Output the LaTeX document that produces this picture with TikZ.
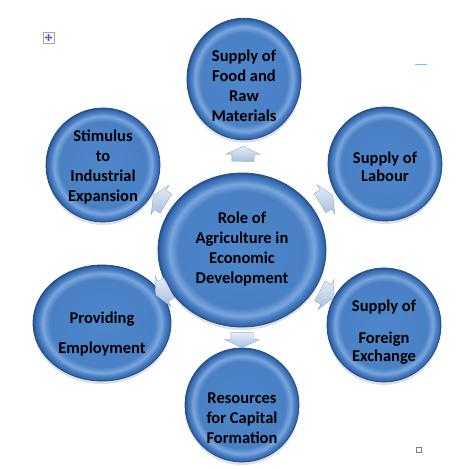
\documentclass[tikz,border=0pt]{standalone}
\usepackage{fontspec}
\setmainfont{Carlito}
\usepackage{tikz}
\usetikzlibrary{arrows,shapes.geometric,shapes.arrows,shadows}

\definecolor{ballcore}{HTML}{4F87CC}
\definecolor{ballmid}{HTML}{4A80C4}
\definecolor{ballrim}{HTML}{7BA6DE}
\definecolor{balldeep}{HTML}{3567AA}
\definecolor{balledge}{HTML}{23508E}
\definecolor{flowtop}{HTML}{E6EDF8}
\definecolor{flowbottom}{HTML}{A9BEDD}
\definecolor{flowedge}{HTML}{94ABCD}
\pgfdeclareradialshading{bevel}{\pgfpointorigin}{color(0bp)=(ballcore); color(19bp)=(ballmid); color(21.5bp)=(ballrim); color(23bp)=(ballmid); color(24.4bp)=(balldeep); color(25bp)=(balledge); color(50bp)=(balledge)}

\begin{document}
\begin{tikzpicture}[x=1pt,y=1pt,
  bubble/.style={ellipse,draw=balledge,line width=0.8pt,shade,shading=bevel,text=black,minimum width=114pt,minimum height=114pt,inner sep=0pt,text depth=0pt,align=center,font=\fontsize{16.5}{20}\selectfont\bfseries,drop shadow={shadow xshift=0pt,shadow yshift=-3pt,opacity=.25}},
  flow/.style={single arrow,draw=flowedge,top color=flowtop,bottom color=flowbottom,minimum height=15pt,inner xsep=0pt,inner ysep=11pt,single arrow head extend=6pt,single arrow tip angle=130,allow upside down}]
\useasboundingbox (0,0) rectangle (475,469);

\node [bubble,minimum width=168pt,minimum height=154pt,text height=68pt] (hub) at (242,219) {Role of\\Agriculture in\\Economic\\Development};

\node [bubble,text height=86pt] (food) at (244,390) {Supply of\\Food and\\Raw\\Materials};
\node [bubble,text height=36pt] (labour) at (385,305) {Supply of\\[-2pt]Labour};
\node [bubble,text height=74pt] (forex) at (384,144) {Supply of\\[12pt]Foreign\\[-2pt]Exchange};
\node [bubble,text height=78pt] (capital) at (242,64) {Resources\\for Capital\\Formation};
\node [bubble,minimum width=138pt,minimum height=116pt,text height=62pt] (employ) at (102,146) {Providing\\[10pt]Employment};
\node [bubble,text height=74pt] (stimulus) at (103,304) {Stimulus\\to\\Industrial\\Expansion};

\foreach \outer in {food,labour,forex,capital,employ,stimulus}
  \path (hub) -- (\outer) node [flow,midway,sloped] (to\outer) {};

\draw [gray!70,fill=white] (43,426) rectangle (54,437);
\draw [<->,blue!70] (45,431.5) -- (52,431.5); \draw [<->,blue!70] (48.5,428) -- (48.5,435);
\draw [blue!40!cyan!60,line width=0.8pt] (415,405) -- (427,405);
\draw [gray] (416,17) rectangle (421,22);
\end{tikzpicture}
\end{document}
